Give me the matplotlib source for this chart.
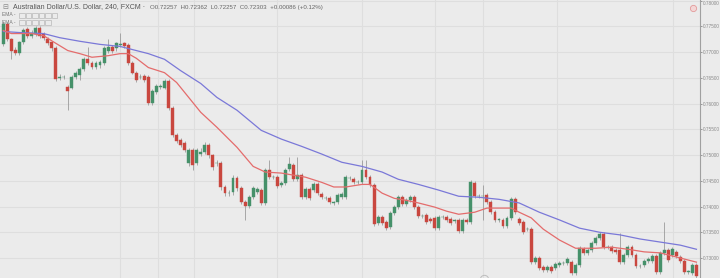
import matplotlib
matplotlib.use("Agg")
import matplotlib.pyplot as plt
from matplotlib.patches import Rectangle
import numpy as np

# ---------------- data ----------------
opens = [0.7715,0.7755,0.7726,0.7705,0.7699,0.7719,0.7744,0.7732,0.7736,0.7746,
         0.7736,0.7726,0.7719,0.7707,0.7649,0.7651,0.7633,0.7631,0.7651,0.7655,
         0.7668,0.7686,0.7678,0.7672,0.7674,0.7678,0.7703,0.7709,0.7707,0.7713,
         0.7717,0.7713,0.7678,0.7660,0.7651,0.7653,0.7651,0.7602,0.7622,0.7633,
         0.7631,0.7643,0.7591,0.7538,0.7529,0.7523,0.7484,0.7509,0.7484,0.7503,
         0.7505,0.7519,0.7500,0.7484,0.7484,0.7438,0.7426,0.7428,0.7455,0.7436,
         0.7409,0.7401,0.7418,0.7428,0.7432,0.7407,0.7471,0.7457,0.7457,0.7441,
         0.7445,0.7472,0.7480,0.7453,0.7461,0.7418,0.7434,0.7432,0.7443,0.7424,
         0.7416,0.7416,0.7407,0.7409,0.7418,0.7418,0.7455,0.7453,0.7447,0.7447,
         0.7471,0.7457,0.7441,0.7368,0.7379,0.7370,0.7360,0.7387,0.7399,0.7418,
         0.7405,0.7412,0.7418,0.7399,0.7381,0.7383,0.7376,0.7378,0.7358,0.7379,
         0.7379,0.7376,0.7372,0.7374,0.7352,0.7374,0.7370,0.7445,0.7420,0.7420,
         0.7422,0.7409,0.7389,0.7374,0.7374,0.7362,0.7378,0.7414,0.7376,0.7370,
         0.7356,0.7356,0.7292,0.7300,0.7283,0.7277,0.7283,0.7281,0.7286,0.7290,
         0.7290,0.7292,0.7271,0.7286,0.7317,0.7310,0.7315,0.7329,0.7339,0.7347,
         0.7321,0.7321,0.7315,0.7315,0.7292,0.7306,0.7321,0.7306,0.7284,0.7286,
         0.7294,0.7294,0.7304,0.7273,0.7310,0.7315,0.7306,0.7312,0.7302,0.7294,
         0.7273,0.7271,0.7286]
closes = [0.7755,0.7726,0.7703,0.7699,0.7719,0.7742,0.7732,0.7738,0.7746,0.7732,
          0.7728,0.7717,0.7707,0.7647,0.7651,0.7651,0.7624,0.7651,0.7659,0.7668,
          0.7686,0.7678,0.7672,0.7678,0.7680,0.7707,0.7709,0.7703,0.7717,0.7715,
          0.7711,0.7678,0.7660,0.7645,0.7651,0.7645,0.7602,0.7624,0.7635,0.7633,
          0.7643,0.7591,0.7538,0.7527,0.7519,0.7509,0.7509,0.7480,0.7509,0.7505,
          0.7519,0.7500,0.7476,0.7484,0.7438,0.7426,0.7426,0.7455,0.7436,0.7409,
          0.7401,0.7418,0.7436,0.7434,0.7407,0.7471,0.7457,0.7457,0.7440,0.7445,
          0.7471,0.7482,0.7453,0.7461,0.7418,0.7434,0.7416,0.7443,0.7426,0.7418,
          0.7416,0.7409,0.7407,0.7422,0.7424,0.7457,0.7455,0.7447,0.7447,0.7471,
          0.7457,0.7441,0.7366,0.7379,0.7368,0.7358,0.7387,0.7399,0.7418,0.7405,
          0.7412,0.7418,0.7399,0.7381,0.7381,0.7370,0.7372,0.7358,0.7379,0.7379,
          0.7374,0.7368,0.7372,0.7352,0.7374,0.7370,0.7447,0.7420,0.7420,0.7420,
          0.7409,0.7389,0.7374,0.7374,0.7362,0.7378,0.7414,0.7389,0.7368,0.7350,
          0.7356,0.7292,0.7300,0.7281,0.7277,0.7283,0.7275,0.7288,0.7290,0.7290,
          0.7298,0.7271,0.7286,0.7319,0.7310,0.7315,0.7329,0.7339,0.7347,0.7321,
          0.7321,0.7314,0.7312,0.7292,0.7306,0.7321,0.7306,0.7284,0.7284,0.7294,
          0.7298,0.7304,0.7273,0.7310,0.7315,0.7296,0.7317,0.7304,0.7294,0.7273,
          0.7273,0.7286,0.7265]
highs = [0.7761,0.7759,0.7728,0.7709,0.7722,0.7746,0.7748,0.7742,0.7750,0.7750,
         0.7740,0.7730,0.7722,0.7711,0.7657,0.7655,0.7637,0.7655,0.7664,0.7672,
         0.7690,0.7709,0.7682,0.7682,0.7684,0.7711,0.7726,0.7713,0.7720,0.7738,
         0.7720,0.7717,0.7682,0.7664,0.7657,0.7657,0.7655,0.7629,0.7639,0.7639,
         0.7647,0.7647,0.7595,0.7542,0.7533,0.7527,0.7513,0.7513,0.7513,0.7513,
         0.7525,0.7523,0.7503,0.7490,0.7488,0.7441,0.7432,0.7461,0.7459,0.7440,
         0.7412,0.7422,0.7440,0.7438,0.7436,0.7474,0.7490,0.7461,0.7461,0.7449,
         0.7474,0.7496,0.7484,0.7496,0.7465,0.7438,0.7438,0.7447,0.7447,0.7428,
         0.7420,0.7420,0.7410,0.7426,0.7428,0.7461,0.7459,0.7457,0.7451,0.7490,
         0.7490,0.7461,0.7445,0.7383,0.7383,0.7374,0.7391,0.7403,0.7422,0.7422,
         0.7416,0.7422,0.7422,0.7403,0.7385,0.7387,0.7379,0.7381,0.7383,0.7383,
         0.7383,0.7379,0.7376,0.7378,0.7378,0.7378,0.7451,0.7449,0.7424,0.7441,
         0.7426,0.7412,0.7393,0.7378,0.7378,0.7381,0.7418,0.7418,0.7379,0.7374,
         0.7360,0.7360,0.7304,0.7304,0.7286,0.7286,0.7286,0.7292,0.7294,0.7294,
         0.7302,0.7296,0.7290,0.7323,0.7321,0.7319,0.7333,0.7343,0.7350,0.7350,
         0.7325,0.7325,0.7319,0.7348,0.7310,0.7325,0.7325,0.7310,0.7288,0.7298,
         0.7302,0.7308,0.7308,0.7314,0.7370,0.7319,0.7321,0.7315,0.7306,0.7298,
         0.7277,0.7290,0.7290]
lows = [0.7711,0.7722,0.7686,0.7695,0.7695,0.7715,0.7728,0.7728,0.7732,0.7728,
        0.7724,0.7713,0.7703,0.7643,0.7645,0.7647,0.7587,0.7628,0.7647,0.7645,
        0.7664,0.7674,0.7668,0.7668,0.7670,0.7674,0.7699,0.7699,0.7703,0.7709,
        0.7707,0.7674,0.7657,0.7641,0.7647,0.7641,0.7598,0.7598,0.7618,0.7629,
        0.7628,0.7587,0.7535,0.7523,0.7515,0.7505,0.7478,0.7471,0.7480,0.7498,
        0.7502,0.7494,0.7471,0.7478,0.7432,0.7420,0.7420,0.7422,0.7430,0.7405,
        0.7374,0.7397,0.7414,0.7424,0.7403,0.7403,0.7453,0.7453,0.7436,0.7438,
        0.7441,0.7469,0.7449,0.7449,0.7414,0.7414,0.7412,0.7428,0.7422,0.7414,
        0.7412,0.7405,0.7403,0.7405,0.7414,0.7414,0.7451,0.7443,0.7443,0.7443,
        0.7453,0.7438,0.7362,0.7364,0.7364,0.7354,0.7356,0.7383,0.7395,0.7401,
        0.7401,0.7409,0.7395,0.7378,0.7378,0.7366,0.7368,0.7354,0.7354,0.7376,
        0.7370,0.7364,0.7368,0.7348,0.7348,0.7366,0.7366,0.7416,0.7416,0.7374,
        0.7405,0.7385,0.7370,0.7370,0.7358,0.7358,0.7374,0.7385,0.7364,0.7347,
        0.7352,0.7288,0.7288,0.7277,0.7273,0.7273,0.7271,0.7277,0.7283,0.7286,
        0.7286,0.7267,0.7267,0.7283,0.7306,0.7306,0.7312,0.7325,0.7335,0.7317,
        0.7317,0.7310,0.7308,0.7288,0.7288,0.7302,0.7302,0.7281,0.7281,0.7283,
        0.7290,0.7290,0.7269,0.7269,0.7306,0.7292,0.7302,0.7300,0.7290,0.7269,
        0.7269,0.7267,0.7261]

# EMA lines (candle index, price)
ema_fast_idx = [0,2,7,10,12,16,19,22,26,29,31,33,36,40,43,46,49,53,58,62,65,69,72,75,
                79,82,85,89,91,94,97,100,103,107,110,113,117,120,126,128,131,134,138,
                142,147,151,155,159,163,167,172]
ema_fast_val = [0.7742,0.7736,0.7736,0.7732,0.7722,0.7703,0.7697,0.7690,0.7693,0.7697,
                0.7697,0.7688,0.7670,0.7660,0.7641,0.7612,0.7583,0.7554,0.7515,0.7478,
                0.7467,0.7465,0.7461,0.7457,0.7447,0.7438,0.7438,0.7443,0.7443,0.7426,
                0.7416,0.7412,0.7407,0.7399,0.7391,0.7385,0.7389,0.7397,0.7397,0.7389,
                0.7378,0.7356,0.7335,0.7319,0.7319,0.7321,0.7317,0.7312,0.7310,0.7302,
                0.7292]
ema_slow_idx = [0,4,10,14,19,24,29,33,36,40,44,49,53,58,64,69,74,79,84,89,94,98,103,108,
                113,118,123,128,133,138,143,148,153,158,163,168,172]
ema_slow_val = [0.7740,0.7738,0.7736,0.7728,0.7721,0.7715,0.7711,0.7703,0.7697,0.7686,
                0.7664,0.7639,0.7612,0.7587,0.7548,0.7531,0.7517,0.7502,0.7486,0.7478,
                0.7467,0.7453,0.7443,0.7432,0.7420,0.7418,0.7414,0.7407,0.7389,0.7374,
                0.7358,0.7350,0.7345,0.7337,0.7331,0.7325,0.7317]

price_ticks = [0.730,0.735,0.740,0.745,0.750,0.755,0.760,0.765,0.770,0.775,0.780]
time_grid = [29, 38.4, 47.3, 67.9, 89.0, 107.1, 119.0, 137.4, 166.2]

title = "Australian Dollar/U.S. Dollar, 240, FXCM \u00b7"
ohlc_text = "O0.72257  H0.72362  L0.72257  C0.72303  +0.00086 (+0.12%)"

# ---------------- styling ----------------
BG = "#ebebeb"
GRID = "#dedede"
UP = "#46916a"
DOWN = "#c9473f"
WICK = "#9b9b9b"
BLUE = "#7a78d8"
PINK = "#e46c6c"

plt.rcParams['font.family'] = ['Liberation Sans', 'DejaVu Sans']

fig = plt.figure(figsize=(7.2, 2.78), dpi=100)
fig.patch.set_facecolor(BG)
ax = fig.add_axes([0, 0, 700/720, 1])
ax.set_facecolor(BG)

n = len(opens)
x = np.arange(n)
for v in price_ticks:
    ax.axhline(v, color=GRID, lw=0.8, zorder=0)
for t in time_grid:
    ax.axvline(t, color=GRID, lw=0.8, zorder=0)

o = np.array(opens); c = np.array(closes)
h = np.array(highs); l = np.array(lows)
ax.vlines(x, l, h, color=WICK, lw=0.6, zorder=1)
up = c >= o
cols = np.where(up, UP, DOWN)
body = np.maximum(np.abs(c - o), 0.00012)
ax.bar(x, body, bottom=np.minimum(o, c), width=0.72, color=cols,
       edgecolor=cols, linewidth=0.3, zorder=2)

ax.plot(ema_slow_idx, ema_slow_val, color=BLUE, lw=0.9, zorder=3)
ax.plot(ema_fast_idx, ema_fast_val, color=PINK, lw=0.9, zorder=3)

ax.set_xlim(-0.82, 172.88)
ax.set_ylim(0.72612, 0.78012)

for s in ['top', 'left', 'bottom']:
    ax.spines[s].set_visible(False)
ax.spines['right'].set_color('#a0a0a0')
ax.spines['right'].set_linewidth(0.8)
ax.set_xticks([])
ax.yaxis.tick_right()
ax.set_yticks(price_ticks)
ax.set_yticklabels([f"{v:.5f}" for v in price_ticks])
ax.tick_params(axis='y', labelsize=3.4, colors='#8a8a8a', length=1.5, width=0.6, pad=0.8)
for lab in ax.get_yticklabels():
    if lab.get_text() == "0.78000":
        lab.set_va('top')

# header texts
fig.text(2/720, 1 - 7/278, "\u229f", fontsize=5, color='#888888', va='center', ha='left',
         family=['DejaVu Sans'])
fig.text(13/720, 1 - 7/278, title, fontsize=5.0, color='#555555', va='center', ha='left')
fig.text(150/720, 1 - 7/278, ohlc_text, fontsize=4.4, color='#666666', va='center', ha='left')
for k, (yy, nb) in enumerate([(15, 6), (22.5, 5)]):
    fig.text(2/720, 1 - yy/278, "EMA -", fontsize=3.6, color='#777777', va='center', ha='left')
    for b in range(nb):
        fig.patches.append(Rectangle(((19 + b*6.5)/720, 1 - (yy + 2.5)/278), 5.5/720, 5/278,
                                     transform=fig.transFigure, fill=False,
                                     edgecolor='#b8b8b8', linewidth=0.5))

# small icons
ax.plot([171.2], [0.7786], 'o', ms=4.5, mfc='#f4d6d6', mec='#e29a9a', mew=0.6, zorder=5)
ax.plot([119.3], [0.72585], 'o', ms=6, mfc='none', mec='#bdbdbd', mew=0.7, zorder=5)

fig.savefig("out.png", dpi=100, facecolor=BG)
